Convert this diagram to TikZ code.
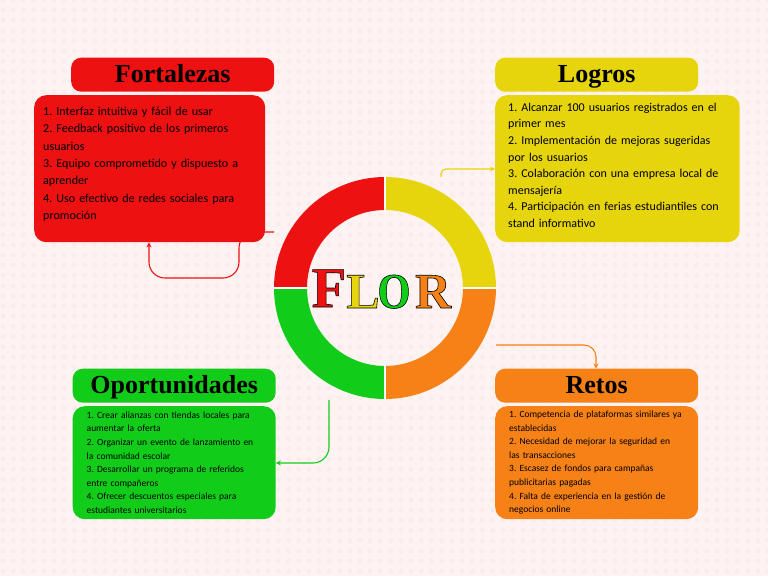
\documentclass[tikz,border=0pt]{standalone}
\usepackage{fontspec}
\setmainfont{Liberation Serif}
\newfontfamily\bodyfont{Carlito}
\usetikzlibrary{arrows.meta,backgrounds}
\definecolor{paper}{HTML}{FEF3F3}
\definecolor{speck}{HTML}{FBECEC}
\definecolor{fredc}{HTML}{ED1111}
\definecolor{fyelc}{HTML}{E6D40C}
\definecolor{fgrnc}{HTML}{12CC1A}
\definecolor{forgc}{HTML}{F58117}
\tikzset{>={Stealth[length=5pt,width=5pt]}}
\tikzset{titlebox/.style={rounded corners=10pt,inner sep=0pt,minimum width=203pt,minimum height=34pt,text height=19pt,text depth=3pt,anchor=north west,font=\bfseries\fontsize{26}{28}\selectfont}}
\tikzset{notebox/.style={rounded corners=12pt,anchor=north west,align=left,inner ysep=0pt,text=black}}
\tikzset{bigbody/.style={notebox,inner xsep=9pt,text width=213pt,minimum height=147pt,font=\bodyfont\frenchspacing\fontsize{12.1}{17.3}\selectfont}}
\tikzset{smallbody/.style={notebox,inner xsep=14pt,text width=175pt,minimum height=113pt,font=\bodyfont\frenchspacing\fontsize{9.5}{13.6}\selectfont}}
\tikzset{link/.style={line width=1.1pt,->}}
\tikzset{bigletter/.style={inner sep=0pt,anchor=base,font=\bfseries\fontsize{50}{52}\selectfont}}
\newcommand*{\letr}[2]{\textcolor{#1}{\special{pdf:code 2 Tr 0.6 w 0 0 0 RG}#2\special{pdf:code 0 Tr}}}
\begin{document}
\begin{tikzpicture}[x=1pt,y=-1pt]
\useasboundingbox (0,0) rectangle (768,576);
\begin{scope}[on background layer]
\fill[paper] (0,0) rectangle (768,576);
\foreach \x in {0,...,75}
  \foreach \y in {0,...,56}
    \fill[speck] (\x*10.2+3,\y*10.2) circle(2.4pt);
\end{scope}
% ring
\foreach \a/\c in {180/fredc,270/fyelc,0/forgc,90/fgrnc}
  \fill[\c] (385,288) ++(\a:111) arc(\a:\a+90:111) -- ++(\a+90:-33) arc(\a+90:\a:78) -- cycle;
\foreach \a in {0,90,180,270}
  \draw[white!70!paper,line width=2pt] (385,288) ++(\a:76) -- ++(\a:37);
% centre word
\node[bigletter,font=\bfseries\fontsize{57}{60}\selectfont] (letf) at (329,307) {\letr{fredc}{F}};
\node[bigletter] (letl) at (363,308) {\letr{fyelc}{L}};
\node[bigletter,xscale=.85] (leto) at (394,308) {\letr{fgrnc}{O}};
\node[bigletter] (letr) at (433,308) {\letr{forgc}{R}};
% boxes
\node[titlebox,fill=fredc] (fort) at (71,57.5) {Fortalezas};
\node[bigbody,fill=fredc] (fortb) at (34,95) {1. Interfaz intuitiva y fácil de usar\\2. Feedback positivo de los primeros\\usuarios\\3. Equipo comprometido y dispuesto a\\aprender\\\textcolor{black}{4. Uso efectivo de redes sociales para}\\promoción\rule[-11pt]{0pt}{1pt}};
\node[titlebox,fill=fyelc] (logr) at (495,57.5) {Logros};
\node[bigbody,fill=fyelc,text width=218.5pt,inner xsep=13pt,font=\bodyfont\frenchspacing\fontsize{12}{16.6}\selectfont] (logrb) at (495,95) {1. Alcanzar 100 usuarios registrados en el\\primer mes\\2. Implementación de mejoras sugeridas\\por los usuarios\\3. Colaboración con una empresa local de\\mensajería\\4. Participación en ferias estudiantiles con\\stand informativo\rule[-7pt]{0pt}{1pt}};
\node[titlebox,fill=fgrnc] (opor) at (72.5,368.5) {Oportunidades};
\node[smallbody,fill=fgrnc] (oporb) at (72.5,406) {1. Crear alianzas con tiendas locales para\\aumentar la oferta\\2. Organizar un evento de lanzamiento en\\la comunidad escolar\\3. Desarrollar un programa de referidos\\entre compañeros\\4. Ofrecer descuentos especiales para\\estudiantes universitarios};
\node[titlebox,fill=forgc] (reto) at (495,368.5) {Retos};
\node[smallbody,fill=forgc] (retob) at (495,406) {1. Competencia de plataformas similares ya\\establecidas\\2. Necesidad de mejorar la seguridad en\\las transacciones\\3. Escasez de fondos para campañas\\publicitarias pagadas\\4. Falta de experiencia en la gestión de\\negocios online};
% connectors
\coordinate (ringr) at (274,232);
\coordinate (ringy) at (441,177);
\coordinate (ringo) at (496,345);
\coordinate (ringg) at (329,400);
\begin{scope}[on background layer]
\draw[link,fredc,rounded corners=16pt] (ringr) -- (239,232) -- (239,278) -- (149,278) -- (fortb.south -| 149,0);
\end{scope}
\draw[link,fyelc,rounded corners=5pt] (ringy) -- (441,169) -- (logrb.west |- 0,169);
\draw[link,forgc,rounded corners=12pt] (ringo) -- (596,345) -- (reto.north -| 596,0);
\draw[link,fgrnc,rounded corners=16pt] (ringg) -- (329,463) -- (oporb.east |- 0,463);
\end{tikzpicture}
\end{document}
